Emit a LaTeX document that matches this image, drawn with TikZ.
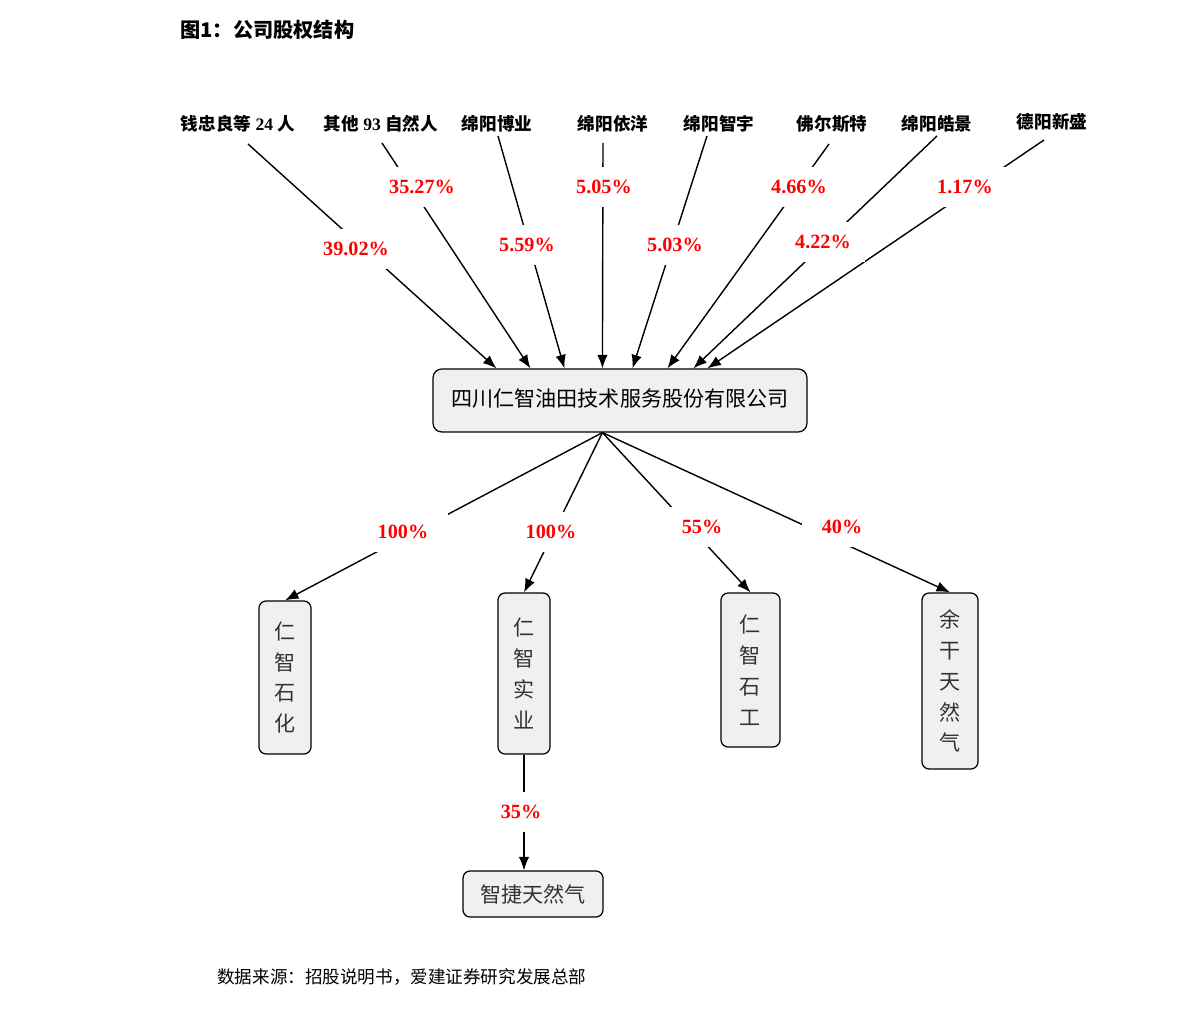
\documentclass[tikz,border=0pt]{standalone}
\usepackage{fontspec}
\setmainfont{Liberation Serif}
\newfontfamily\cjk{Noto Sans CJK SC}
\definecolor{pctred}{RGB}{255,0,0}
\definecolor{boxgray}{RGB}{240,240,240}
\usetikzlibrary{arrows.meta,calc}

\begin{document}
\begin{tikzpicture}[x=0.02cm, y=-0.02cm, >={Latex[length=2.7mm,width=2.1mm]},
    holder/.style={font=\bfseries\fontsize{10}{12}\selectfont, inner sep=0pt},
    pct/.style={fill=white, text=pctred, font=\bfseries\fontsize{11.5}{13}\selectfont, inner xsep=0.28cm, inner ysep=0.27cm},
    co/.style={draw, line width=0.7pt, rounded corners=4pt, fill=boxgray, align=center, font=\cjk\fontsize{12}{17.6}\selectfont},
    link/.style={->, line width=0.8pt}]
    \useasboundingbox (0,0) rectangle (1191,1010);
    \node[anchor=west, inner sep=0pt, font=\cjk\bfseries\fontsize{11.5}{13}\selectfont] (title) at (180,30) {图1：公司股权结构};

    \node[holder] (qzl) at (238,124) {{\cjk 钱忠良等} 24 {\cjk 人}};
    \node[holder] (qt) at (381,124) {{\cjk 其他} 93 {\cjk 自然人}};
    \node[holder] (by) at (497,124) {\cjk 绵阳博业};
    \node[holder] (yy) at (613,124) {\cjk 绵阳依洋};
    \node[holder] (zy) at (719,124) {\cjk 绵阳智宇};
    \node[holder] (fest) at (832,124) {\cjk 佛尔斯特};
    \node[holder] (hj) at (937,124) {\cjk 绵阳皓景};
    \node[holder] (xs) at (1052,122) {\cjk 德阳新盛};

    \node[co, minimum width=7.48cm, minimum height=1.26cm, rounded corners=5pt, text depth=0.12cm] (main) at (620,400.5) {四川仁智油田技术服务股份有限公司};
    \node[co, text=black!80, minimum width=1.04cm, minimum height=3.06cm] (hs) at (285,677.5) {仁\\智\\石\\化};
    \node[co, text=black!80, minimum width=1.04cm, minimum height=3.22cm] (sy) at (524,673.5) {仁\\智\\实\\业};
    \node[co, text=black!80, minimum width=1.18cm, minimum height=3.08cm] (sg) at (750.5,670) {仁\\智\\石\\工};
    \node[co, text=black!80, minimum width=1.12cm, minimum height=3.52cm] (ygt) at (950,681) {余\\干\\天\\然\\气};
    \node[co, text=black!80, minimum width=2.8cm, minimum height=0.92cm] (zj) at (533,894) {智捷天然气};

    \draw[link] ($(qzl)+(10,20)$) -- ($(main.north west)+(64,0)$);
    \draw[link] ($(qt)+(1,19)$) -- ($(main.north west)+(98,0)$);
    \draw[link] ($(by)+(1,12)$) -- ($(main.north west)+(132,0)$);
    \draw[link] ($(yy)+(-10,19)$) -- ($(main.north west)+(170,0)$);
    \draw[link] ($(zy)+(-12,12)$) -- ($(main.north west)+(200,0)$);
    \draw[link] ($(fest)+(-3,20)$) -- ($(main.north west)+(235,0)$);
    \draw[link] ($(hj)+(0,12)$) -- ($(main.north west)+(261,0)$);
    \draw[link] ($(xs)+(-8,18)$) -- ($(main.north west)+(275,0)$);

    \coordinate (hub) at ($(main.south west)+(170,0)$);
    \draw[link] (hub) -- (hs.north);
    \draw[link] (hub) -- (sy.north);
    \draw[link] (hub) -- (sg.north);
    \draw[link] (hub) -- (ygt.north);
    \draw[link] (sy) -- (sy |- zj.north);

    \node[pct] (l1) at (356,249) {39.02\%};
    \node[pct] (l2) at (422,187) {35.27\%};
    \node[pct] (l3) at (527,245) {5.59\%};
    \node[pct] (l4) at (604,187) {5.05\%};
    \node[pct] (l5) at (675,245) {5.03\%};
    \node[pct] (l6) at (799,187) {4.66\%};
    \node[pct] (l7) at (823,242) {4.22\%};
    \node[pct] (l8) at (965,187) {1.17\%};
    \node[pct, inner xsep=0.4cm] (l9) at (403,532) {100\%};
    \node[pct, inner xsep=0.4cm] (l10) at (551,532) {100\%};
    \node[pct, inner xsep=0.4cm] (l11) at (702,527) {55\%};
    \node[pct, inner xsep=0.4cm] (l12) at (842,527) {40\%};
    \node[pct] (l13) at (521,812) {35\%};

    \node[anchor=west, inner sep=0pt, font=\cjk\fontsize{10}{12}\selectfont] (src) at (217,977) {数据来源：招股说明书，爱建证券研究发展总部};
\end{tikzpicture}
\end{document}
